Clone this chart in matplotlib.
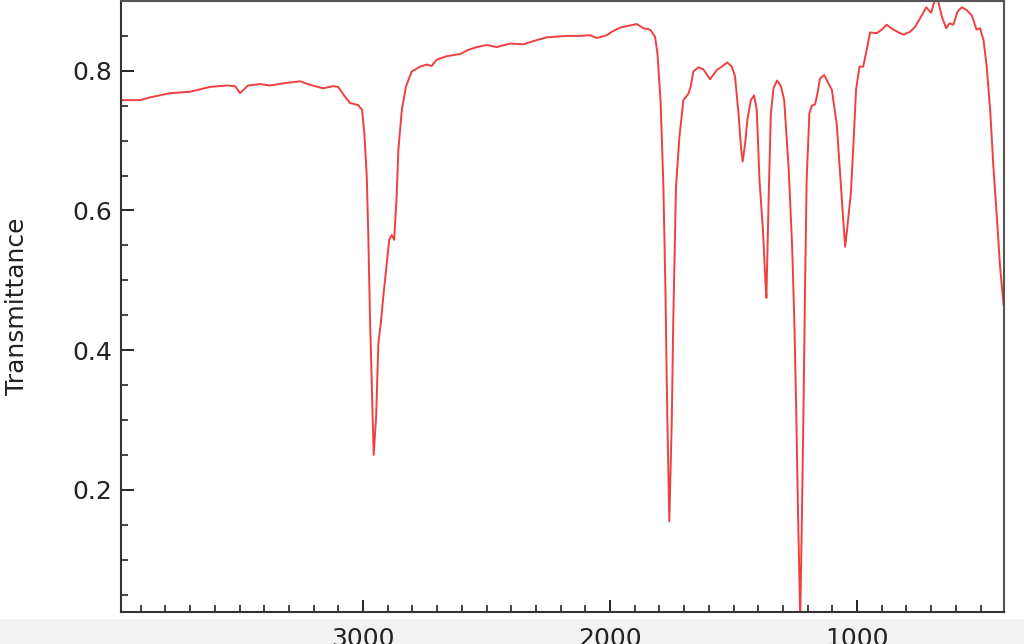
import numpy as np
import matplotlib
matplotlib.use("Agg")
import matplotlib.pyplot as plt
from matplotlib.ticker import MultipleLocator
from matplotlib.patches import Rectangle

# IR spectrum, values
wavenumber = [
    3980, 3903, 3862, 3781, 3700, 3620, 3551, 3518, 3498, 3466, 3417, 3377,
    3324, 3255, 3215, 3162, 3121, 3101, 3073, 3053, 3020, 3004, 2995, 2985,
    2979, 2972, 2965, 2957, 2947, 2938, 2928, 2918, 2904, 2894, 2884, 2874,
    2864, 2857, 2843, 2826, 2803, 2769, 2742, 2722, 2702, 2661, 2607, 2574,
    2540, 2499, 2459, 2405, 2351, 2297, 2256, 2216, 2175, 2121, 2081, 2054,
    2013, 1993, 1959, 1919, 1892, 1865, 1838, 1818, 1808, 1795, 1784, 1776,
    1768, 1760, 1750, 1744, 1733, 1719, 1703, 1683, 1673, 1663, 1642, 1622,
    1595, 1568, 1548, 1525, 1507, 1494, 1480, 1469, 1463, 1453, 1444, 1430,
    1417, 1406, 1395, 1381, 1372, 1367, 1358, 1349, 1338, 1324, 1308, 1295,
    1277, 1263, 1254, 1246, 1239, 1230, 1224, 1217, 1210, 1204, 1193, 1183,
    1170, 1160, 1150, 1133, 1116, 1102, 1082, 1067, 1055, 1048, 1039, 1025,
    1015, 1004, 990, 975, 961, 947, 920, 900, 880, 853, 826, 812,
    785, 765, 745, 720, 700, 687, 675, 657, 639, 626, 610, 593,
    576, 556, 535, 516, 502, 488, 475, 461, 448, 434, 421, 407,
]
transmittance = [
    0.758, 0.758, 0.762, 0.768, 0.770, 0.777, 0.779, 0.778, 0.768, 0.779, 0.781, 0.779,
    0.782, 0.785, 0.780, 0.775, 0.778, 0.777, 0.763, 0.754, 0.751, 0.744, 0.711, 0.649,
    0.568, 0.448, 0.353, 0.250, 0.305, 0.410, 0.439, 0.477, 0.525, 0.558, 0.565, 0.558,
    0.620, 0.687, 0.744, 0.778, 0.799, 0.806, 0.809, 0.807, 0.816, 0.821, 0.824, 0.830,
    0.834, 0.837, 0.834, 0.839, 0.838, 0.844, 0.848, 0.849, 0.850, 0.850, 0.851, 0.847,
    0.851, 0.856, 0.862, 0.865, 0.867, 0.861, 0.859, 0.849, 0.825, 0.754, 0.634, 0.491,
    0.300, 0.155, 0.300, 0.443, 0.634, 0.706, 0.758, 0.767, 0.778, 0.799, 0.805, 0.802,
    0.788, 0.801, 0.806, 0.812, 0.806, 0.792, 0.739, 0.687, 0.670, 0.696, 0.730, 0.758,
    0.765, 0.744, 0.644, 0.572, 0.505, 0.475, 0.615, 0.739, 0.775, 0.786, 0.778, 0.758,
    0.661, 0.551, 0.443, 0.310, 0.167, 0.015, 0.143, 0.310, 0.501, 0.644, 0.739, 0.750,
    0.752, 0.768, 0.789, 0.794, 0.782, 0.773, 0.723, 0.644, 0.582, 0.548, 0.577, 0.625,
    0.692, 0.773, 0.806, 0.806, 0.830, 0.855, 0.854, 0.859, 0.866, 0.859, 0.854, 0.852,
    0.856, 0.863, 0.875, 0.891, 0.883, 0.899, 0.905, 0.878, 0.861, 0.868, 0.866, 0.885,
    0.891, 0.887, 0.879, 0.859, 0.861, 0.844, 0.806, 0.744, 0.663, 0.591, 0.520, 0.465,
]

fig = plt.figure(figsize=(10.24, 6.44), dpi=100)
ax = fig.add_axes([121 / 1024, 32 / 644, 883 / 1024, 611 / 644])

# light grey strip along the bottom edge of the screenshot
fig.patches.append(Rectangle((0, 0), 1, 25 / 644, transform=fig.transFigure,
                             facecolor='#f2f2f2', edgecolor='none', zorder=-1))

ax.plot(wavenumber, transmittance, color='#ee4040', linewidth=1.4)

ax.set_xlim(3980, 405)
ax.set_ylim(0.025, 0.9)

ax.xaxis.set_major_locator(MultipleLocator(1000))
ax.xaxis.set_minor_locator(MultipleLocator(100))
ax.yaxis.set_major_locator(MultipleLocator(0.2))
ax.yaxis.set_minor_locator(MultipleLocator(0.05))
ax.yaxis.set_major_formatter(plt.FormatStrFormatter('%.1f'))

ax.tick_params(which='both', direction='in', top=False, right=False,
               colors='#222222', labelsize=18)
ax.tick_params(which='major', length=9, width=1.4)
ax.tick_params(which='minor', length=5, width=1.2)
ax.tick_params(axis='x', pad=11)
ax.tick_params(axis='y', pad=6)

for side in ['left', 'bottom']:
    ax.spines[side].set_color('#333333')
    ax.spines[side].set_linewidth(1.5)
for side in ['top', 'right']:
    ax.spines[side].set_color('#555555')
    ax.spines[side].set_linewidth(1.5)

fig.text(17 / 1024, 1 - 306 / 644, 'Transmittance', rotation=90,
         ha='center', va='center', fontsize=18, color='#222222')

fig.savefig('out.png', dpi=100)
